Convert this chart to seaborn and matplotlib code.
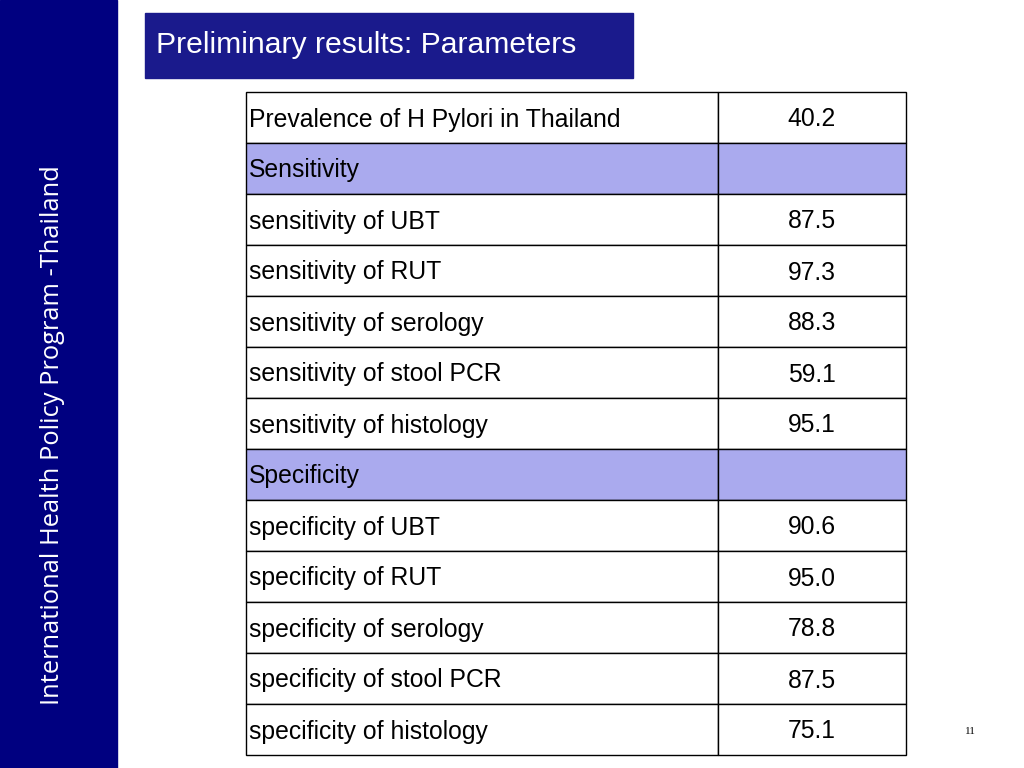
import matplotlib
matplotlib.use("Agg")
from matplotlib import pyplot as plt
from matplotlib.patches import Rectangle
import seaborn as sns

sns.set_theme(style="white")

labels = ["Prevalence of H Pylori in Thailand", "Sensitivity",
          "sensitivity of UBT", "sensitivity of RUT", "sensitivity of serology",
          "sensitivity of stool PCR", "sensitivity of histology", "Specificity",
          "specificity of UBT", "specificity of RUT", "specificity of serology",
          "specificity of stool PCR", "specificity of histology"]
values = ["40.2", "", "87.5", "97.3", "88.3", "59.1", "95.1", "",
          "90.6", "95.0", "78.8", "87.5", "75.1"]
header_rows = ["Sensitivity", "Specificity"]

fig = plt.figure(figsize=(10.24, 7.68), dpi=100)
ax = fig.add_axes([0, 0, 1, 1])
ax.set_xlim(0, 1024)
ax.set_ylim(768, 0)
ax.axis("off")

# side bar and title
ax.add_patch(Rectangle((0, 0), 117, 768, color="#000080"))
ax.text(53, 435, "International Health Policy Program -Thailand", rotation=90,
        color="white", fontsize=18.4, ha="center", va="center", family="Open Sans")
ax.add_patch(Rectangle((145, 13), 488, 65, color="#1a1a8c"))
ax.text(156, 45, "Preliminary results: Parameters", color="white",
        fontsize=21.7, va="center", family="Liberation Sans")

top, h, x0, xm, x1 = 92, 51, 246, 718, 906
for i, (lab, val) in enumerate(zip(labels, values)):
    y = top + i * h
    fc = "#aaaaee" if lab in header_rows else "white"
    ax.add_patch(Rectangle((x0, y), xm - x0, h, fc=fc, ec="black", lw=1))
    ax.add_patch(Rectangle((xm, y), x1 - xm, h, fc=fc, ec="black", lw=1))
    ax.text(x0 + 3, y + h / 2 + 2, lab, fontsize=17.8, va="center",
            family="Liberation Sans", color="black")
    ax.text((xm + x1) / 2, y + h / 2 + 2, val, fontsize=17.8, va="center",
            ha="center", family="Liberation Sans", color="black")

ax.text(970, 731, "11", fontsize=8, ha="center", va="center",
        family="Liberation Serif", color="black")

fig.savefig("out.png", dpi=100)
